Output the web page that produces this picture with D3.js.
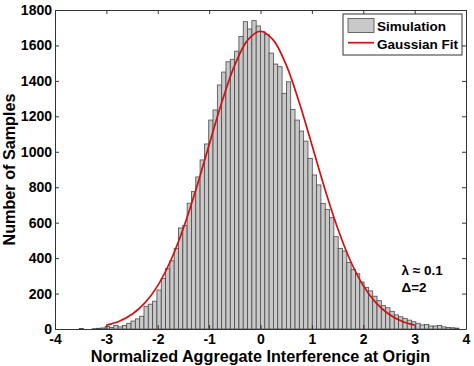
<!DOCTYPE html>
<html><head><meta charset="utf-8">
<script src="https://cdn.jsdelivr.net/npm/d3@7"></script>
<style>body{margin:0;background:#fff}svg text{font-family:"Liberation Sans",Arial,sans-serif;font-weight:bold}</style>
</head><body>
<svg id="c" width="474" height="366"></svg>
<script>
// Histogram: first bin left edge and bin width (x units), then counts per bin
const binStart = -3.528;
const binWidth = 0.084;
const counts = [3,0,0,2,4,6,14,8,20,12,20,32,45,57,72,128,140,157,220,285,340,385,455,570,585,710,775,858,954,1044,1179,1236,1377,1450,1508,1522,1568,1650,1734,1693,1740,1710,1678,1662,1557,1495,1480,1330,1395,1238,1179,1117,1060,963,869,813,709,675,628,521,455,440,375,335,312,265,235,215,185,160,132,120,100,80,69,60,50,41,32,23,26,17,17,20,12,9,7,5];
// Gaussian fit curve
const fitX = [-3,-2.75,-2.5,-2.25,-2,-1.75,-1.5,-1.25,-1,-0.75,-0.5,-0.25,0,0.25,0.5,0.75,1,1.25,1.5,1.75,2,2.25,2.5,2.75,3];
const fitY = [22,44,83,147,245,385,570,793,1039,1282,1490,1630,1680,1630,1490,1282,1039,793,570,385,245,147,83,44,22];
const xTicks = [-4,-3,-2,-1,0,1,2,3,4];
const yTicks = [0,200,400,600,800,1000,1200,1400,1600,1800];
const legendLabels = ["Simulation","Gaussian Fit"];
const annotations = ["λ ≈ 0.1","Δ=2"];
const xTitle = "Normalized Aggregate Interference at Origin";
const yTitle = "Number of Samples";

const svg = d3.select("#c");
const L = 55, R = 466, T = 10, B = 329;
const x = d3.scaleLinear().domain([-4,4]).range([L,R]);
const y = d3.scaleLinear().domain([0,1800]).range([B,T]);
const barFill = "#c9c9c9", barStroke = "#4a4a4a", red = "#d11010", axisCol = "#333";

// bars
svg.append("g").selectAll("rect").data(counts.map((c,i)=>({c,i})).filter(d=>d.c>0)).join("rect")
  .attr("x", d=>x(binStart + d.i*binWidth))
  .attr("width", x(binWidth)-x(0))
  .attr("y", d=>y(d.c))
  .attr("height", d=>y(0)-y(d.c))
  .attr("fill", barFill).attr("stroke", barStroke).attr("stroke-width", 0.8);

// fit line
svg.append("path").datum(fitX.map((v,i)=>[v,fitY[i]]))
  .attr("d", d3.line().x(d=>x(d[0])).y(d=>y(d[1])).curve(d3.curveCatmullRom))
  .attr("fill","none").attr("stroke",red).attr("stroke-width",1.7);

// axes
const fmt = d => String(d);
function style(g){ g.selectAll("path,line").attr("stroke",axisCol); g.selectAll("text").attr("fill","#000").attr("font-size",14).style("font-family",'"Liberation Sans",Arial,sans-serif').style("font-weight","bold"); }
svg.append("g").attr("transform",`translate(0,${B})`)
  .call(d3.axisBottom(x).tickValues(xTicks).tickSize(-4).tickSizeOuter(0).tickPadding(5).tickFormat(fmt)).call(style);
svg.append("g").attr("transform",`translate(0,${T})`)
  .call(d3.axisTop(x).tickValues(xTicks).tickSize(-4).tickSizeOuter(0).tickFormat("")).call(style);
svg.append("g").attr("transform",`translate(${L},0)`)
  .call(d3.axisLeft(y).tickValues(yTicks).tickSize(-4).tickSizeOuter(0).tickPadding(3).tickFormat(fmt)).call(style);
svg.append("g").attr("transform",`translate(${R},0)`)
  .call(d3.axisRight(y).tickValues(yTicks).tickSize(-4).tickSizeOuter(0).tickFormat("")).call(style);
svg.selectAll(".domain").attr("fill","none");

// titles
svg.append("text").attr("x",(L+R)/2).attr("y",362).attr("text-anchor","middle").attr("font-size",16.2).text(xTitle);
svg.append("text").attr("transform",`translate(14.5,${(T+B)/2}) rotate(-90)`).attr("text-anchor","middle").attr("font-size",16.2).text(yTitle);

// legend
const lg = svg.append("g");
lg.append("rect").attr("x",343).attr("y",14).attr("width",119).attr("height",41).attr("fill","#fff").attr("stroke",axisCol);
lg.append("rect").attr("x",348).attr("y",18.5).attr("width",26).attr("height",14).attr("fill",barFill).attr("stroke",barStroke).attr("stroke-width",0.8);
lg.append("line").attr("x1",348).attr("x2",374).attr("y1",42.7).attr("y2",42.7).attr("stroke",red).attr("stroke-width",1.7);
lg.selectAll("text.l").data(legendLabels).join("text").attr("class","l")
  .attr("x",377).attr("y",(d,i)=>30.5+i*18.5).attr("font-size",13.5).text(d=>d);

// annotation
svg.selectAll("text.a").data(annotations).join("text").attr("class","a")
  .attr("x",401.5).attr("y",(d,i)=>275+i*17).attr("font-size",13.5).text(d=>d);
</script>
</body></html>
